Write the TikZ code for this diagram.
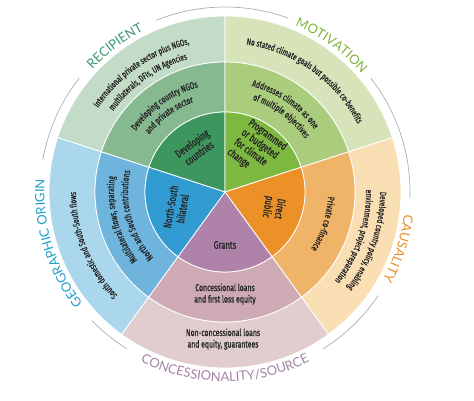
\documentclass[tikz,border=0pt]{standalone}
\usepackage{fontspec}
\setmainfont{Fira Sans}[FakeStretch=0.7, FakeBold=0.8]
\newfontfamily\lblfont{Lato}
\usetikzlibrary{decorations.text}

\definecolor{txt}{HTML}{262626}
\definecolor{ringgrey}{HTML}{A9AEB8}
% recipient
\definecolor{recA}{HTML}{3E965F}
\definecolor{recB}{HTML}{87B991}
\definecolor{recC}{HTML}{C3DCC8}
\definecolor{recL}{HTML}{3C966E}
% motivation
\definecolor{motA}{HTML}{7DB941}
\definecolor{motB}{HTML}{AACD7D}
\definecolor{motC}{HTML}{D7E4B9}
\definecolor{motL}{HTML}{7DB43C}
% causality
\definecolor{cauA}{HTML}{EB9128}
\definecolor{cauB}{HTML}{F0B469}
\definecolor{cauC}{HTML}{FADEB4}
\definecolor{cauL}{HTML}{EB8C2D}
% concessionality
\definecolor{conA}{HTML}{AF82AA}
\definecolor{conB}{HTML}{CDAAB4}
\definecolor{conC}{HTML}{E1CDCD}
\definecolor{conL}{HTML}{A582A5}
% geographic origin
\definecolor{geoA}{HTML}{329BD2}
\definecolor{geoB}{HTML}{6EB4DC}
\definecolor{geoC}{HTML}{AAD7EB}
\definecolor{geoL}{HTML}{1EA0CD}

\newcommand{\outerfont}{\fontsize{9.2}{10}\selectfont\color{txt}}
\newcommand{\midfont}{\fontsize{9.6}{10}\selectfont\color{txt}}
\newcommand{\lblsize}{\lblfont\fontsize{13}{14}\selectfont}

% text on an arc round the centre: start angle, end angle, radius, font, text
\newcommand{\arctext}[5]{%
  \path[decorate, decoration={text along path, text align=center, text={|#4|#5}}]
    (#1:#3) arc[start angle=#1, end angle=#2, radius=#3];}

\tikzstyle{wedge} = [draw=white, line width=0.8pt]
\tikzstyle{core} = [text=txt, font=\fontsize{11}{12}\selectfont, align=center, inner sep=0pt]
\tikzstyle{ring} = [text=txt, font=\fontsize{9.8}{11.5}\selectfont, align=center, inner sep=0pt]
\tikzstyle{guide} = [draw=ringgrey, line width=0.7pt]

\begin{document}
\begin{tikzpicture}[x=1pt, y=1pt]
\useasboundingbox (-225,-209) rectangle (249,192);

% Slices
\foreach \a/\b/\ci/\cm/\co in {90/162/recA/recB/recC, 18/90/motA/motB/motC,
    -54/18/cauA/cauB/cauC, -126/-54/conA/conB/conC, 162/234/geoA/geoB/geoC} {
  \filldraw[wedge, fill=\co] (\a:130) arc[start angle=\a, end angle=\b, radius=130]
    -- (\b:176) arc[start angle=\b, end angle=\a, radius=176] -- cycle;
  \filldraw[wedge, fill=\cm] (\a:80) arc[start angle=\a, end angle=\b, radius=80]
    -- (\b:130) arc[start angle=\b, end angle=\a, radius=130] -- cycle;
  \filldraw[wedge, fill=\ci] (0,0) -- (\a:80) arc[start angle=\a, end angle=\b, radius=80] -- cycle;
}

% Outer guide circle, broken at the labels
\draw[guide] (70:185) arc[start angle=70, end angle=112, radius=185];
\draw[guide] (142:185) arc[start angle=142, end angle=170, radius=185];
\draw[guide] (224:185) arc[start angle=224, end angle=238, radius=185];
\draw[guide] (-58:185) arc[start angle=-58, end angle=-34, radius=185];
\draw[guide] (-2:185) arc[start angle=-2, end angle=38, radius=185];

% Labels
\arctext{167}{87}{180.5}{\lblsize\color{recL}}{RECIPIENT}
\arctext{94}{14}{180.5}{\lblsize\color{motL}}{MOTIVATION}
\arctext{22}{-58}{180.5}{\lblsize\color{cauL}}{CAUSALITY}
\arctext{247}{147}{180.5}{\lblsize\color{geoL}}{GEOGRAPHIC ORIGIN}
\arctext{-145}{-35}{189.5}{\lblsize\color{conL}}{CONCESSIONALITY/SOURCE}

% Recipient
\node (recin) [core, rotate=36] at (124:53) {Developing\\countries};
\arctext{170}{80}{108}{\midfont}{Developing country NGOs}
\arctext{171}{81}{95}{\midfont}{and private sector}
\arctext{165}{85}{152}{\outerfont}{International private sector plus NGOs,}
\arctext{165}{85}{138}{\outerfont}{multilaterals, DFIs, UN Agencies}

% Motivation
\node (motin) [core, rotate=-36, align=left] at (53:53) {Programmed\\or budgeted\\for climate\\change};
\arctext{100}{11}{109}{\midfont}{Addresses climate as one}
\arctext{98}{9}{96}{\midfont}{of multiple objectives}
\arctext{90}{19}{149}{\outerfont}{No stated climate goals but possible co-benefits}

% Causality
\node (cauin) [core, rotate=-100] at (-18:51) {Direct\\public};
\arctext{27}{-63}{103}{\midfont}{Private co-finance}
\arctext{16}{-54}{155}{\outerfont}{Developed country policy, enabling}
\arctext{16}{-54}{141}{\outerfont}{environment, project preparation}

% Concessionality / source
\node (conin) [core] at (0,-53) {Grants};
\node (conmid) [ring] at (0,-102) {Concessional loans\\and first loss equity};
\node (conout) [ring] at (-2,-147) {Non-concessional loans\\and equity, guarantees};

% Geographic origin
\node (geoin) [core, rotate=80] at (198:51) {North-South\\bilateral};
\arctext{240}{150}{111}{\midfont}{Multilateral flows, separating}
\arctext{240}{150}{97}{\midfont}{North and South contributions}
\arctext{240}{164}{149}{\outerfont}{South domestic and South-South flows}

\end{tikzpicture}
\end{document}
